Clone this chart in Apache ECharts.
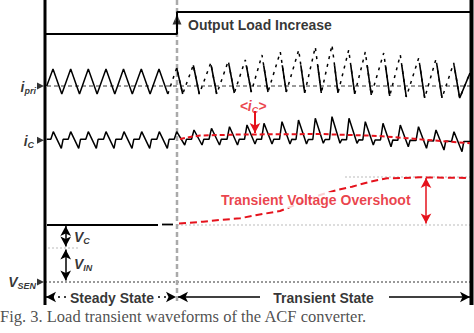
<!DOCTYPE html>
<html><head><meta charset="utf-8">
<script src="https://cdn.jsdelivr.net/npm/echarts@6/dist/echarts.min.js"></script>
<style>html,body{margin:0;padding:0;background:#fff}#c{width:474px;height:333px}</style>
</head><body><div id="c"></div>
<script>
// ===== Data (schematic: x = time, y = signal level, downward) =====
const RED = '#e5121c';
const frameTimes = [45, 471.5];            // left / right boundaries of the time window
const frameSpan = [0, 305];
const stepTime = 177;                      // load step instant
const loadLevels = [34, 12];               // before / after step
// i_pri
const ipriBase = 86;
const ipriStart = [46.7, 86];
const ipriSteadyPeakT = [53, 70.7, 88.3, 106, 123.5, 141.3, 159];
const ipriSteadyPeak = 69, ipriSteadyTrough = 94, ipriSteadyFall = 8.8;
const ipriTransPeakT = [176.7, 193.3, 210.7, 228.3, 245.3, 262, 280.3, 298.7, 315.3, 332, 348.7, 365.3, 383.7, 400.3, 418.7, 436, 453.7];
const ipriTransPeak  = [68, 65, 63, 61, 60, 55, 52, 50, 47, 45, 50, 52, 53, 55, 58, 59, 63];
const ipriTransTrough= [94, 94, 94, 93, 92, 92, 92, 93, 93, 93, 94, 95, 96, 97, 98, 98, 98];
const ipriTransFall = 6;
const ipriEnd = [470, 73];
const ipriSolidLimit = 66;                 // above this the transient i_pri is drawn dashed
// i_C
const icBase = 139.3;
const icStart = [46.7, 139.3];
const icSteadyPeakT = [53.3, 70.7, 88.3, 106, 124, 141.7, 159.3];
const icSteadyPeak = 131.7, icSteadyTrough = 148.3;
const icTransPeakT = [176.7, 194, 211.5, 229.5, 247, 264, 282, 298.5, 315.3, 332, 349, 365.3, 383, 400.3, 418.5, 436, 454];
const icTransPeak  = [131.7, 130, 128.3, 126.7, 125, 123.3, 121.7, 120, 118.3, 116.7, 118.3, 121.7, 123.3, 125, 126.7, 130, 131.7];
const icTransTrough= [145, 145, 145, 145, 144, 144, 144, 144, 143.3, 143.3, 143.3, 145, 146.7, 146.7, 148.3, 150, 151.7];
const icTransBase  = [139.3, 139.3, 139.3, 139.3, 139.3, 139.3, 139.3, 139.5, 139.5, 139.5, 139.8, 140, 140, 140.3, 140.5, 141, 141.5];
const icRise = 2.5, icFall = 8, icBack = 1.8;
const icEnd = [[466, 141.5], [470, 141.5]];
const icAvg = [[180, 139], [190, 137], [200, 135.5], [240, 134.5], [320, 134], [380, 136], [420, 139.3], [470, 143.3]];
// output voltage
const vSteady = [[47, 225], [158, 225]];
const vSteadyTail = [[162, 224.5], [173, 224.5]];
const vTrans = [[179, 223.5], [203, 221.7], [220, 220], [240, 218.3], [257, 215], [280, 211], [300, 203], [320, 195], [337, 190], [352, 186.7], [370, 181.7], [387, 178.3], [404, 178], [420, 177.3], [470, 178]];
const refLevels = { vNom: 225, vPeak: 177, vC: 248, vSen: 282 };
// annotations
const texts = {
  load: 'Output Load Increase', over: 'Transient Voltage Overshoot',
  steady: 'Steady State', trans: 'Transient State',
  caption: 'Fig. 3. Load transient waveforms of the ACF converter.'
};

// ===== build polylines from the read vertices =====
const ipriSteady = [ipriStart];
ipriSteadyPeakT.forEach(t => { ipriSteady.push([t, ipriSteadyPeak]); ipriSteady.push([t + ipriSteadyFall, ipriSteadyTrough]); });
const ipriTrans = [ipriSteady[ipriSteady.length - 1]];
const ipriFalling = [];
ipriTransPeakT.forEach((t, i) => {
  ipriTrans.push([t, ipriTransPeak[i]]); ipriTrans.push([t + ipriTransFall, ipriTransTrough[i]]);
  ipriFalling.push([t, ipriTransPeak[i]], [t + ipriTransFall, ipriTransTrough[i]], null);
});
ipriTrans.push(ipriEnd);
ipriFalling.push([ipriTransPeakT[ipriTransPeakT.length - 1] + ipriTransFall, ipriTransTrough[ipriTransTrough.length - 1]], ipriEnd);

const icWave = [icStart];
icSteadyPeakT.forEach(t => {
  icWave.push([t - icRise, icBase]); icWave.push([t, icSteadyPeak]);
  icWave.push([t + icFall, icSteadyTrough]); icWave.push([t + icFall + icBack, icBase]);
});
icTransPeakT.forEach((t, i) => {
  icWave.push([t - icRise, icTransBase[i]]); icWave.push([t, icTransPeak[i]]);
  icWave.push([t + icFall, icTransTrough[i]]); icWave.push([t + icFall + icBack, icTransBase[i]]);
});
icEnd.forEach(p => icWave.push(p));

// ===== chart =====
const chart = echarts.init(document.getElementById('c'), null, { renderer: 'svg' });
const sans = 'Liberation Sans, Arial, sans-serif';
const line = (data, style, extra) => Object.assign({
  type: 'line', data, symbol: 'none', silent: true, clip: false, animation: false, connectNulls: false,
  lineStyle: Object.assign({ color: '#000', width: 1.5 }, style)
}, extra || {});
const sub = (color) => ({
  m: { fontFamily: sans, fontWeight: 'bold', fontStyle: 'italic', fontSize: 14, color },
  s: { fontFamily: sans, fontWeight: 'bold', fontStyle: 'italic', fontSize: 9, color, padding: [7, 0, 0, 0] }
});
const lbl = (pos, text, opt) => ({ value: pos, label: Object.assign({ show: true, formatter: text, fontFamily: sans, fontWeight: 'bold', fontSize: 14, color: '#000' }, opt) });

const arrowLine = (a, b, color, syms, width, type) => [
  { coord: a, symbol: syms[0], symbolSize: [8, 10], lineStyle: { color, width: width || 1.5, type: type || 'solid' } },
  { coord: b, symbol: syms[1], symbolSize: [8, 10] }
];

const option = {
  animation: false,
  grid: [{ left: 0, right: 0, top: 0, bottom: 0 }, { left: 0, right: 0, top: ipriSolidLimit, bottom: 0 }],
  xAxis: [
    { type: 'value', min: 0, max: 474, show: false, gridIndex: 0 },
    { type: 'value', min: 0, max: 474, show: false, gridIndex: 1 }
  ],
  yAxis: [
    { type: 'value', min: 0, max: 333, inverse: true, show: false, gridIndex: 0 },
    { type: 'value', min: ipriSolidLimit, max: 333, inverse: true, show: false, gridIndex: 1 }
  ],
  series: [
    // reference dotted levels
    line([[177, refLevels.vNom], [470, refLevels.vNom]], { color: '#bbb', width: 1, type: [2, 2] }),
    line([[345, refLevels.vPeak], [470, refLevels.vPeak]], { color: '#bbb', width: 1, type: [2, 2] }),
    line([[48, refLevels.vC], [80, refLevels.vC]], { color: '#bbb', width: 1, type: [2, 2] }),
    line([[45, refLevels.vSen], [470, refLevels.vSen]], { color: '#333', width: 1, type: [2, 2] }),
    line([[47, ipriBase], [470, ipriBase]], { color: '#333', width: 1, type: [4, 3] }),
    // step instant
    line([[stepTime, 0], [stepTime, 303]], { color: '#aaa', width: 2.5, type: [5, 3] }),
    // frame
    line([[frameTimes[0], frameSpan[0]], [frameTimes[0], frameSpan[1]]], { width: 3 }),
    line([[frameTimes[1], frameSpan[0]], [frameTimes[1], frameSpan[1]]], { width: 4 }),
    // load step
    line([[frameTimes[0], loadLevels[0]], [stepTime, loadLevels[0]], [stepTime, loadLevels[1]], [470, loadLevels[1]]], { width: 2 }),
    // i_pri
    line(ipriSteady, { width: 1.5 }),
    line(ipriTrans, { width: 1.5, type: [3, 5] }),
    line(ipriFalling, { width: 1.6 }, { xAxisIndex: 1, yAxisIndex: 1, clip: true }),
    // i_C
    line(icWave, { width: 1.5 }),
    line(icAvg, { color: RED, width: 2, type: [5, 3] }),
    // voltage
    line(vSteady, { width: 1.8 }),
    line(vSteadyTail, { width: 1.8 }),
    line(vTrans, { color: RED, width: 2, type: [7, 4] }),
    // arrows
    {
      type: 'line', data: [], silent: true, animation: false,
      markLine: {
        silent: true, animation: false, label: { show: false },
        data: [
          arrowLine([65.7, 226], [65.7, 246.5], '#000', ['arrow', 'arrow']),
          arrowLine([65.7, 249.5], [65.7, 280.5], '#000', ['arrow', 'arrow']),
          arrowLine([426, 178], [426, 223.5], RED, ['arrow', 'arrow']),
          arrowLine([255, 111], [255, 133], RED, ['none', 'arrow'], 2),
          arrowLine([66, 297], [46, 297], '#000', ['none', 'arrow'], 1.5, [2, 4]),
          arrowLine([158, 297], [176, 297], '#000', ['none', 'arrow'], 1.5, [2, 4]),
          arrowLine([260, 297], [178, 297], '#000', ['none', 'arrow']),
          arrowLine([389, 297], [470, 297], '#000', ['none', 'arrow'])
        ]
      }
    },
    // small triangle pointers
    {
      type: 'scatter', silent: true, animation: false, symbol: 'triangle', itemStyle: { color: '#000' },
      data: [
        { value: [40.5, ipriBase], symbolSize: [7, 7], symbolRotate: -90 },
        { value: [40.5, icBase + 1], symbolSize: [7, 7], symbolRotate: -90 },
        { value: [40.5, refLevels.vSen], symbolSize: [7, 7], symbolRotate: -90 },
        { value: [stepTime, 19.5], symbolSize: [9, 10], symbolRotate: 0 }
      ]
    },
    // text labels
    {
      type: 'scatter', silent: true, animation: false, symbolSize: 0, z: 10,
      label: { show: true },
      data: [
        lbl([188, 25], texts.load, { position: 'right', distance: 0 }),
        lbl([221, 200], texts.over, { position: 'right', distance: 0, color: RED, backgroundColor: '#fff', padding: [1, 2, 1, 0] }),
        lbl([112, 297.5], texts.steady, { position: 'inside', backgroundColor: '#fff', padding: [0, 3] }),
        lbl([323.5, 297.5], texts.trans, { position: 'inside' }),
        lbl([36, 87], '{m|i}{s|pri}', { position: 'left', distance: 0, rich: sub('#000') }),
        lbl([34, 141], '{m|i}{s|C}', { position: 'left', distance: 0, rich: sub('#000') }),
        lbl([36, 282], '{m|V}{s|SEN}', { position: 'left', distance: 0, rich: sub('#000') }),
        lbl([74, 237], '{m|V}{s|C}', { position: 'right', distance: 0, rich: sub('#000') }),
        lbl([74, 264], '{m|V}{s|IN}', { position: 'right', distance: 0, rich: sub('#000') }),
        lbl([253, 106], '{m|<i}{s|C}{m|>}', { position: 'inside', rich: sub(RED) }),
        lbl([0, 316], texts.caption, { position: 'right', distance: 0, fontFamily: 'Liberation Serif, Times New Roman, serif', fontWeight: 'normal', fontSize: 16.5, color: '#222' })
      ]
    }
  ]
};
chart.setOption(option);
</script></body></html>
